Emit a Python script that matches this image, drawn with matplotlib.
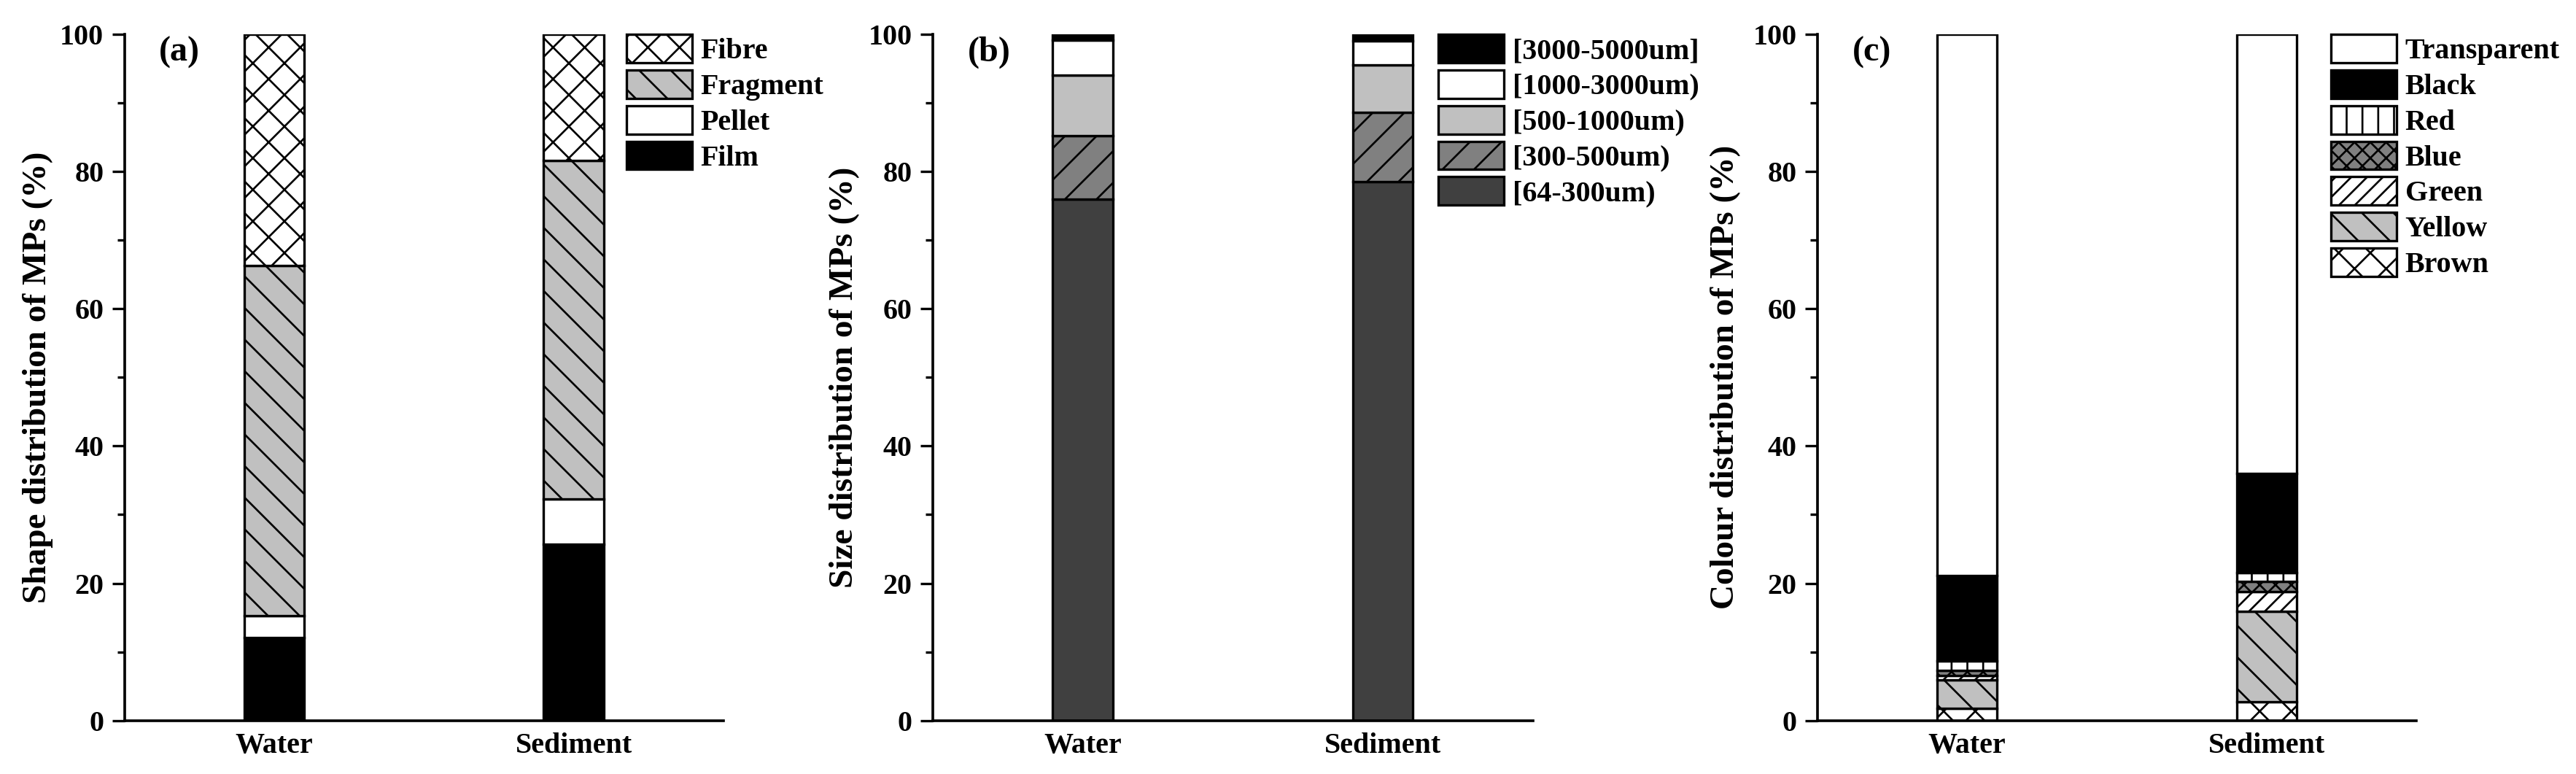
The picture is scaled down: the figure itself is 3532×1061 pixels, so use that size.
import numpy as np
import matplotlib
matplotlib.use('Agg')
import matplotlib.pyplot as plt

DPI = 260
k = 240 / DPI   # sizes below were tuned at 240 dpi

plt.rcParams['font.family'] = ['Liberation Serif', 'DejaVu Serif']
plt.rcParams['font.weight'] = 'bold'
plt.rcParams['hatch.linewidth'] = 0.8 * k

sites = ['Water', 'Sediment']

# (a) shape, bottom to top
shape_labels = ['Film', 'Pellet', 'Fragment', 'Fibre']
shape_water = [12.1, 3.2, 51.0, 33.7]
shape_sediment = [25.7, 6.6, 49.3, 18.4]

# (b) size, bottom to top
size_labels = ['[64-300um)', '[300-500um)', '[500-1000um)', '[1000-3000um)', '[3000-5000um]']
size_water = [76.0, 9.2, 8.8, 5.2, 0.8]
size_sediment = [78.5, 10.1, 6.9, 3.5, 1.0]

# (c) colour, bottom to top
colour_labels = ['Brown', 'Yellow', 'Green', 'Blue', 'Red', 'Black', 'Transparent']
colour_water = [1.8, 4.1, 0.7, 0.7, 1.4, 12.4, 78.9]
colour_sediment = [2.7, 13.2, 2.9, 1.5, 1.2, 14.5, 64.0]


def draw_panel(ax, labels, water, sediment, fills, hatches, ylabel, tag,
               legend_x, label_x):
    x = np.arange(len(sites))
    bottom = np.zeros(len(sites))
    handles = []
    for i, lab in enumerate(labels):
        vals = np.array([water[i], sediment[i]])
        bars = ax.bar(x, vals, 0.2, bottom=bottom, color=fills[i],
                      edgecolor='black', linewidth=1.0 * k, hatch=hatches[i],
                      label=lab)
        handles.append(bars)
        bottom += vals

    ax.set_xlim(-0.5, 1.5)
    ax.set_ylim(0, 100)
    ax.set_xticks(x)
    ax.set_xticklabels(sites, fontsize=12 * k, fontweight='bold')
    ax.set_yticks(np.arange(0, 101, 20))
    ax.set_yticks(np.arange(10, 100, 20), minor=True)
    ax.tick_params(axis='x', length=0, pad=5 * k)
    ax.tick_params(axis='y', which='major', length=5 * k, width=1.0 * k,
                   pad=3.5 * k, labelsize=12 * k)
    ax.tick_params(axis='y', which='minor', length=3 * k, width=1.0 * k)
    for t in ax.get_yticklabels():
        t.set_fontweight('bold')
    for s in ['top', 'right']:
        ax.spines[s].set_visible(False)
    for s in ['left', 'bottom']:
        ax.spines[s].set_linewidth(1.1 * k)

    ax.set_ylabel(ylabel, fontsize=14.2 * k, fontweight='bold')
    ax.yaxis.set_label_coords(label_x, 0.5)
    ax.text(0.058, 0.974, tag, transform=ax.transAxes, fontsize=14.5 * k,
            fontweight='bold', va='center', ha='left')

    ax.legend(handles[::-1], labels[::-1], loc='upper left',
              bbox_to_anchor=(legend_x, 1.0), frameon=False,
              handlelength=2.25, handleheight=1.12, labelspacing=0.17,
              handletextpad=0.3, borderpad=0, borderaxespad=0,
              prop={'size': 12 * k, 'weight': 'bold'})


fig = plt.figure(figsize=(3532 / DPI, 1061 / DPI), dpi=DPI)

ax_a = fig.add_axes([0.0483, 0.0691, 0.2325, 0.8866])
ax_b = fig.add_axes([0.3621, 0.0691, 0.2329, 0.8866])
ax_c = fig.add_axes([0.7055, 0.0691, 0.2325, 0.8866])

# diagonal hatches: each repeat halves the spacing (two marks ~ 43 px here)
draw_panel(ax_a, shape_labels, shape_water, shape_sediment,
           ['black', 'white', '#c0c0c0', 'white'],
           [None, None, '\\\\', 'xx'],
           'Shape distribution of MPs (%)', '(a)', 0.838, -0.119)

draw_panel(ax_b, size_labels, size_water, size_sediment,
           ['#404040', '#808080', '#c0c0c0', 'white', 'black'],
           [None, '//', None, None, None],
           'Size distribution of MPs (%)', '(b)', 0.842, -0.122)

draw_panel(ax_c, colour_labels, colour_water, colour_sediment,
           ['white', '#c0c0c0', 'white', '#808080', 'white', 'black', 'white'],
           ['xx', '\\\\', '////', 'xxxx', '||', None, None],
           'Colour distribution of MPs (%)', '(c)', 0.857, -0.127)

fig.savefig('out.png', dpi=DPI)
